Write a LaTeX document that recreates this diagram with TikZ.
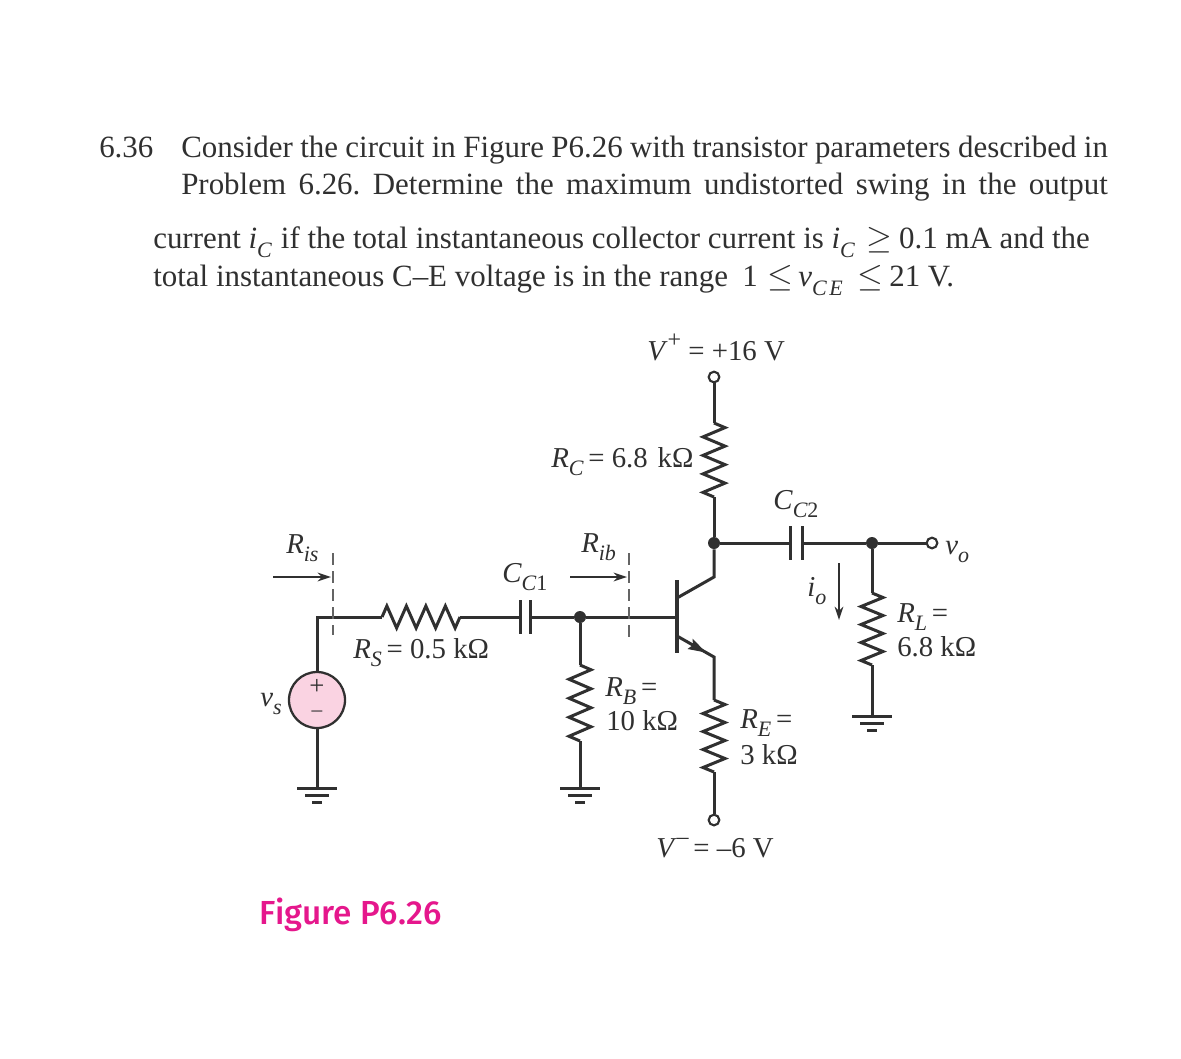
\documentclass[tikz,border=0pt]{standalone}
\usepackage{fontspec}
\setmainfont{Liberation Serif}
\newfontfamily\figfont[UprightFont=* Medium]{Fira Sans}
\usetikzlibrary{arrows.meta}
\definecolor{ink}{HTML}{303030}
\definecolor{srcpink}{HTML}{FAD3E2}
\definecolor{figpink}{HTML}{E5178C}
\newcommand{\bodyfs}{\fontsize{23.2pt}{27pt}\selectfont}
\newcommand{\labfs}{\fontsize{21.6pt}{24pt}\selectfont}
\newcommand{\subs}[1]{\raisebox{-0.3em}{\fontsize{16.5pt}{18pt}\selectfont\itshape #1}}
\newcommand{\sups}[1]{\raisebox{0.42em}{\fontsize{18pt}{18pt}\selectfont #1}}
\newcommand{\vv}{\textit{v}}
\newcommand{\resv}[3]{\draw[wire,line join=miter] (#1) -- ++(11,#3/2) -- ++(-22,#3) -- ++(22,#3) -- ++(-22,#3) -- ++(22,#3) -- ++(-22,#3) -- ++(22,#3) -- ++(-22,#3) -- (#2);}
\newcommand{\resh}[3]{\draw[wire,line join=miter] (#1) -- ++(#3/2,-11) -- ++(#3,22) -- ++(#3,-22) -- ++(#3,22) -- ++(#3,-22) -- ++(#3,22) -- ++(#3,-22) -- ++(#3,22) -- (#2);}
\tikzset{
  wire/.style={draw=ink,line width=2.25pt},
  dashline/.style={draw=ink!75,line width=1.2pt,dash pattern=on 9pt off 4.5pt},
  dot/.style={circle,fill=ink,draw=none,minimum size=9pt,inner sep=0pt},
  term/.style={circle,fill=white,draw=ink,line width=1.6pt,minimum size=8pt,inner sep=0pt},
  body/.style={anchor=base west,inner sep=0pt,text=ink,font=\bodyfs\frenchspacing},
  lab/.style={anchor=base west,inner sep=0pt,text=ink,font=\labfs\frenchspacing},
  arrowline/.style={draw=ink,line width=1.4pt,-{Stealth[length=10pt,width=6.5pt]}},
  gnd/.pic={
    \draw[draw=ink,line width=2.25pt] (-20,0) -- (20,0);
    \draw[draw=ink,line width=2.25pt] (-12,7) -- (12,7);
    \draw[draw=ink,line width=2.25pt] (-5,14) -- (5,14);
  }
}
\begin{document}
\begin{tikzpicture}[x=0.75pt,y=-0.75pt]
\useasboundingbox[fill=white] (0,0) rectangle (1181,1058);
% problem text
\node[body] (n) at (99,157) {6.36};
\node[body] (l1) at (181,157) {\makebox[695pt][s]{Consider the circuit in Figure P6.26 with transistor parameters described in}};
\node[body] (l2) at (181,194) {\makebox[695pt][s]{Problem 6.26. Determine the maximum undistorted swing in the output}};
\node[body] (l3) at (153,248) {current \textit{i}\subs{C}\kern1pt\ if the total instantaneous collector current is \textit{i}\subs{C}\kern8.5pt$\geq$\kern5.4pt 0.1 mA and the};
\node[body] (l4) at (153,286) {total instantaneous C--E voltage is in the range\kern5pt\ 1\kern7pt$\leq$\kern4pt\vv\subs{C\kern2pt E}\kern11pt$\leq$\kern4.5pt 21 V.};
% coordinates
\node[term] (vp) at (714,377) {};
\node[term] (vm) at (714,820) {};
\node[term] (out) at (932,543) {};
\node[dot] (jc) at (714,543) {};
\node[dot] (jl) at (872,543) {};
\node[dot] (jb) at (580,617) {};
\coordinate (rct) at (714,423);
\coordinate (rcb) at (714,497);
\coordinate (ret) at (714,700);
\coordinate (reb) at (714,772);
\coordinate (rlt) at (872,593);
\coordinate (rlb) at (872,665);
\coordinate (rbt) at (580,665);
\coordinate (rbb) at (580,741);
\coordinate (rsl) at (382,617);
\coordinate (rsr) at (460,617);
\coordinate (cor) at (317,617);
\coordinate (c1a) at (520,617);
\coordinate (c1b) at (530,617);
\coordinate (c2a) at (790,543);
\coordinate (c2b) at (802,543);
\coordinate (bb) at (677,617);
\coordinate (cc) at (677,598);
\coordinate (cbend) at (714,577);
\coordinate (ee) at (677,636);
\coordinate (ebend) at (714,657);
\coordinate (g1) at (317,788);
\coordinate (g2) at (580,788);
\coordinate (g3) at (872,716);
% source
\node[circle,draw=ink,line width=1.7pt,fill=srcpink,minimum size=42pt,inner sep=0pt] (src) at (317,700) {};
\node[anchor=center,inner sep=0pt,text=ink,font=\fontsize{20pt}{22pt}\selectfont] (pl) at (317,687) {+};
\node[anchor=center,inner sep=0pt,text=ink,font=\fontsize{16pt}{18pt}\selectfont] (mi) at (317,714) {--};
% wires
\draw[wire] (src) -- (g1);
\draw[wire] (src) -- (cor) -- (rsl);
\resh{rsl}{rsr}{9.75}
\draw[wire] (rsr) -- (c1a);
\draw[wire] (c1b) -- (jb);
\draw[wire] (jb) -- (bb);
\draw[wire] (jb) -- (rbt);
\resv{rbt}{rbb}{9.5}
\draw[wire] (rbb) -- (g2);
\draw[wire] (vp) -- (rct);
\resv{rct}{rcb}{9.25}
\draw[wire] (rcb) -- (jc);
\draw[wire] (jc) -- (c2a);
\draw[wire] (c2b) -- (jl);
\draw[wire] (jl) -- (out);
\draw[wire] (jl) -- (rlt);
\resv{rlt}{rlb}{9}
\draw[wire] (rlb) -- (g3);
\draw[wire] (jc) -- (cbend) -- (cc);
\draw[wire] (ee) -- (ebend) -- (ret);
\resv{ret}{reb}{9}
\draw[wire] (reb) -- (vm);
\draw[draw=none,fill=ink] (706,652.5) -- (687.5,649) -- (693,645) -- (692.5,638.5) -- cycle;
% transistor bar
\draw[draw=ink,line width=3.2pt] (677,580) -- (677,653);
% capacitors
\draw[wire] (520,600) -- (520,634);
\draw[wire] (530,600) -- (530,634);
\draw[wire] (790,526) -- (790,560);
\draw[wire] (802,526) -- (802,560);
% grounds
\pic at (g1) {gnd};
\pic at (g2) {gnd};
\pic at (g3) {gnd};
% dashed
\coordinate (d1a) at (333,553); \coordinate (d1b) at (333,635);
\coordinate (d2a) at (629,553); \coordinate (d2b) at (629,640);
\draw[dashline] (d1a) -- (d1b);
\draw[dashline] (d2a) -- (d2b);
% arrows
\coordinate (a1a) at (273,577); \coordinate (a1b) at (331,577);
\coordinate (a2a) at (570,577); \coordinate (a2b) at (627,577);
\coordinate (a3a) at (839,563); \coordinate (a3b) at (839,620);
\draw[arrowline] (a1a) -- (a1b);
\draw[arrowline] (a2a) -- (a2b);
\draw[arrowline] (a3a) -- (a3b);
% labels
\node[lab] (tvp) at (647,360) {\textit{V}\sups{+} = +16 V};
\node[lab] (trc) at (551,467) {\textit{R}\subs{C}\,= 6.8\kern2pt\ kΩ};
\node[lab] (tc2) at (773,509) {\textit{C}\raisebox{-0.3em}{\fontsize{16.5pt}{18pt}\selectfont\itshape C\upshape 2}};
\node[lab] (tris) at (286,553) {\textit{R}\subs{is}};
\node[lab] (trib) at (581,552) {\textit{R}\subs{ib}};
\node[lab] (tc1) at (502,582) {\textit{C}\raisebox{-0.3em}{\fontsize{16.5pt}{18pt}\selectfont\itshape C\upshape 1}};
\node[lab] (trs) at (353,658) {\textit{R}\subs{S}\,= 0.5 kΩ};
\node[lab] (tvs) at (260,706) {\vv\subs{s}};
\node[lab] (trb1) at (605,696) {\textit{R}\subs{B}\,=};
\node[lab] (trb2) at (606,730) {10 kΩ};
\node[lab] (tre1) at (740,728) {\textit{R}\subs{E}\,=};
\node[lab] (tre2) at (740,764) {3 kΩ};
\node[lab] (trl1) at (897,622) {\textit{R}\subs{L}\,=};
\node[lab] (trl2) at (897,656) {6.8 kΩ};
\node[lab] (tvm) at (656,857) {\textit{V}\sups{--}\,= --6 V};
\node[lab] (tio) at (807,596) {\textit{i}\subs{o}};
\node[lab] (tvo) at (945,554) {\vv\subs{o}};
\node[anchor=base west,inner sep=0pt,text=figpink,font=\figfont\fontsize{25pt}{28pt}\selectfont] (fig) at (259,924) {F\kern0pt igure P6.26};
\end{tikzpicture}
\end{document}
